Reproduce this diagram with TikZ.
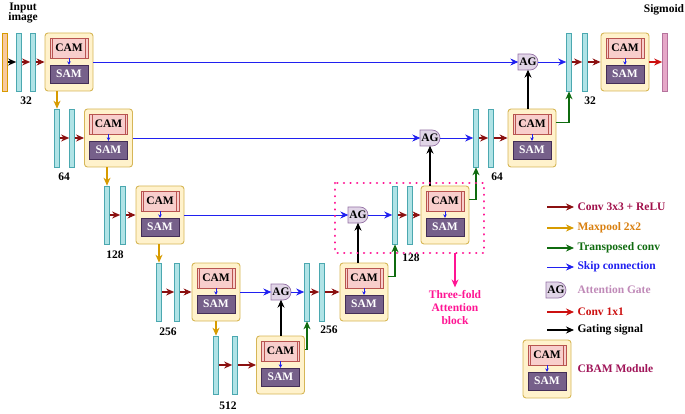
\documentclass[tikz,border=0pt]{standalone}
\usepackage{fontspec}
\setmainfont{Liberation Serif}
\usetikzlibrary{arrows.meta}
\definecolor{barf}{HTML}{B0E3E6}\definecolor{barb}{HTML}{4BA8B0}
\definecolor{boxf}{HTML}{FFF2CC}\definecolor{boxb}{HTML}{D6B656}
\definecolor{camf}{HTML}{F8CECC}\definecolor{camb}{HTML}{B85450}
\definecolor{samf}{HTML}{76608A}\definecolor{samb}{HTML}{432D57}
\definecolor{agf}{HTML}{E1D5E7}\definecolor{agb}{HTML}{9673A6}
\definecolor{cdr}{HTML}{8B1010}\definecolor{cor}{HTML}{D79B00}
\definecolor{cgr}{HTML}{0F6B0F}\definecolor{cbl}{HTML}{2020F0}
\definecolor{crd}{HTML}{CC1010}\definecolor{cpk}{HTML}{FF1493}
\definecolor{tmar}{HTML}{A0104A}\definecolor{tor}{HTML}{D98010}
\definecolor{tag}{HTML}{C08AB8}\definecolor{tcb}{HTML}{A01458}
\definecolor{sigf}{HTML}{E6A8C8}\definecolor{sigb}{HTML}{B5739D}
\definecolor{inf}{HTML}{F8C9A0}\definecolor{inb}{HTML}{D79B00}
\tikzset{
 tip/.style={-{Stealth[length=8pt,width=7pt]}, line width=1.1pt},
 cv/.style={tip, cdr}, mp/.style={tip, cor}, tr/.style={tip, cgr},
 sk/.style={tip, cbl, line width=0.8pt}, gt/.style={tip, black}, c1/.style={tip, crd},
 bar/.style={draw=barb, fill=barf, minimum width=5, minimum height=58, inner sep=0, line width=0.7pt},
 box/.style={draw=boxb, fill=boxf, rounded corners=3pt, minimum width=48, minimum height=58, line width=0.9pt},
 cam/.style={draw=camb, fill=camf, minimum width=38, minimum height=20, inner sep=0, font=\bfseries\fontsize{11.5}{14}\selectfont,
   path picture={\draw[camb,line width=0.4pt] ([xshift=2.5pt]path picture bounding box.north west) -- ([xshift=2.5pt]path picture bounding box.south west);
                 \draw[camb,line width=0.4pt] ([xshift=-2.5pt]path picture bounding box.north east) -- ([xshift=-2.5pt]path picture bounding box.south east);}},
 sam/.style={draw=samb, fill=samf, text=white, minimum width=38, minimum height=18, inner sep=0, font=\bfseries\fontsize{11.5}{14}\selectfont},
 lab/.style={font=\bfseries\fontsize{11.5}{13}\selectfont},
 leg/.style={font=\bfseries\fontsize{11.5}{13}\selectfont, anchor=west},
 agt/.style={minimum width=19, minimum height=15, inner sep=0, font=\bfseries\fontsize{11.5}{13}\selectfont},
}
\newcommand\Cbam[3]{%
 \node[box] (#1) at (#2,#3) {};
 \node[cam] (#1c) at (#2,#3-14) {CAM};
 \node[sam] (#1s) at (#2,#3+12) {SAM};
 \draw[-{Stealth[length=3.5pt,width=3.5pt]}, cbl, line width=0.5pt] (#1c) -- (#1s);}
\newcommand\AGate[3]{%
 \filldraw[fill=agf, draw=agb, line width=0.7pt] (#2-10,#3-8) -- (#2+2,#3-8) arc(90:-90:8pt) -- (#2-10,#3+8) -- cycle;
 \node[agt] (#1) at (#2,#3) {AG};}
\begin{document}
\begin{tikzpicture}[x=1pt,y=-1pt]
\useasboundingbox (0,0) rectangle (685,414);
% level 1
\node[bar, draw=inb, fill=inf] (in) at (5,62) {};
\node[bar] (a1) at (19,62) {};
\node[bar] (a2) at (33,62) {};
\Cbam{e1}{69}{62}
\node[lab, align=center] (tin) at (23,13) {Input\\[-3pt]image};
\node[lab] at (26,101) {32};
\draw[gt] (in) -- (a1); \draw[cv] (a1) -- (a2); \draw[cv] (a2) -- (e1);
% level 2
\node[bar] (b1) at (57,138) {};
\node[bar] (b2) at (72,138) {};
\Cbam{e2}{108.5}{138}
\node[lab] at (64,177) {64};
\draw[mp] (b1 |- e1.south) -- (b1.north);
\draw[cv] (b1) -- (b2); \draw[cv] (b2) -- (e2);
% level 3
\node[bar] (c1) at (107,215) {};
\node[bar] (c2) at (123,215) {};
\Cbam{e3}{160}{215}
\node[lab] at (115,255) {128};
\draw[mp] (c1 |- e2.south) -- (c1.north);
\draw[cv] (c1) -- (c2); \draw[cv] (c2) -- (e3);
% level 4
\node[bar] (d1) at (159,292) {};
\node[bar] (d2) at (177,292) {};
\Cbam{e4}{216}{292}
\node[lab] at (168,332) {256};
\draw[mp] (d1 |- e3.south) -- (d1.north);
\draw[cv] (d1) -- (d2); \draw[cv] (d2) -- (e4);
% level 5
\node[bar] (f1) at (216,365) {};
\node[bar] (f2) at (235,365) {};
\Cbam{e5}{280.5}{365}
\node[lab] at (228,406) {512};
\draw[mp] (f1 |- e4.south) -- (f1.north);
\draw[cv] (f1) -- (f2); \draw[cv] (f2) -- (e5);
% decoder level 4
\AGate{g4}{281}{292}
\node[bar] (u41) at (307,292) {};
\node[bar] (u42) at (322,292) {};
\Cbam{r4}{364}{292}
\node[lab] at (329,330) {256};
\draw[sk] (e4) -- (g4); \draw[sk] (g4) -- (u41);
\draw[cv] (u41) -- (u42); \draw[cv] (u42) -- (r4);
\draw[gt] (g4 |- e5.north) -- (g4.south);
\draw[tr] ([yshift=-14pt]e5.north east) -| (u41.south);
% decoder level 3
\AGate{g3}{358}{215}
\node[bar] (u31) at (395,215) {};
\node[bar] (u32) at (410,215) {};
\Cbam{r3}{445}{215}
\node[lab] at (411,258) {128};
\draw[sk] (e3) -- (g3); \draw[sk] (g3) -- (u31);
\draw[cv] (u31) -- (u32); \draw[cv] (u32) -- (r3);
\draw[gt] (g3 |- r4.north) -- (g3.south);
\draw[tr] ([yshift=-14pt]r4.north east) -| (u31.south);
% decoder level 2
\AGate{g2}{430}{138}
\node[bar] (u21) at (476,138) {};
\node[bar] (u22) at (491,138) {};
\Cbam{r2}{532}{138}
\node[lab] at (497,177) {64};
\draw[sk] (e2) -- (g2); \draw[sk] (g2) -- (u21);
\draw[cv] (u21) -- (u22); \draw[cv] (u22) -- (r2);
\draw[gt] (g2 |- r3.north) -- (g2.south);
\draw[tr] ([yshift=-14pt]r3.north east) -| (u21.south);
% decoder level 1
\AGate{g1}{528}{62}
\node[bar] (u11) at (569,62) {};
\node[bar] (u12) at (585,62) {};
\Cbam{r1}{625}{62}
\node[bar, draw=sigb, fill=sigf] (sg) at (665,62) {};
\node[lab] at (590,101) {32};
\node[lab] at (664,10) {Sigmoid};
\draw[sk] (e1) -- (g1); \draw[sk] (g1) -- (u11);
\draw[cv] (u11) -- (u12); \draw[cv] (u12) -- (r1); \draw[c1] (r1) -- (sg);
\draw[gt] (g1 |- r2.north) -- (g1.south);
\draw[tr] ([yshift=-14pt]r2.north east) -| (u11.south);
% three-fold attention block
\draw[cpk, line width=2.4pt, dash pattern=on 0.1pt off 6.5pt, line cap=round] (335,183) rectangle (484,253);
\node[font=\bfseries\fontsize{11.5}{13}\selectfont, text=cpk, align=center] (tf) at (455,308) {Three-fold\\Attention\\block};
\coordinate (tfs) at (455,253);
\draw[tip, cpk] (tfs) -- (tf.north);
% legend
\foreach \y/\st/\col/\txt [count=\i] in {207/cv/tmar/Conv 3x3 + ReLU, 228/mp/tor/Maxpool 2x2, 248/tr/cgr/Transposed conv, 267/sk/cbl/Skip connection, 312/c1/crd/Conv 1x1, 330/gt/black/Gating signal}{
  \coordinate (ls\i) at (547,\y); \node[leg, text=\col] (lt\i) at (574,\y) {\txt};
  \draw[\st] (ls\i) -- (lt\i.west);}
\AGate{lag}{556}{290}
\node[leg, text=tag] at (574,290) {Attention Gate};
\Cbam{lc}{547}{369}
\node[leg, text=tcb] at (574,369) {CBAM Module};
\end{tikzpicture}
\end{document}
